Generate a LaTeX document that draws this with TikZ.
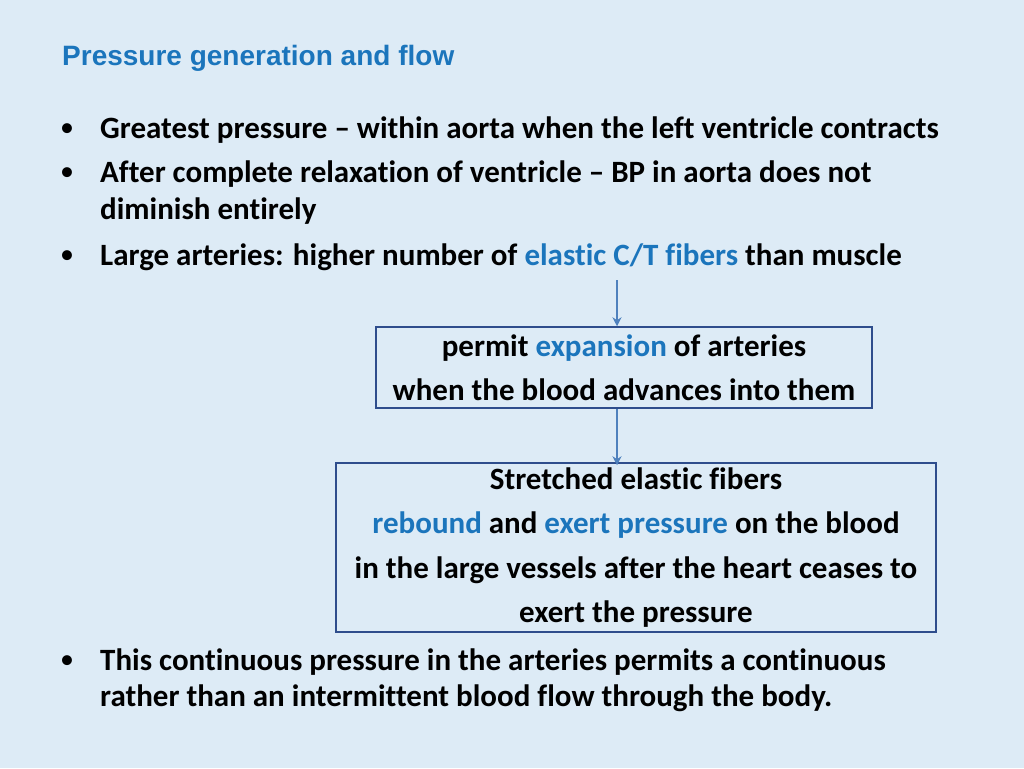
\documentclass[tikz,border=0pt]{standalone}
\usepackage{fontspec}
\setmainfont{Carlito}[Ligatures={NoCommon}]
\newfontfamily\titlefont{Liberation Sans}
\usetikzlibrary{positioning,arrows.meta}
\definecolor{slidebg}{HTML}{DDEBF6}
\definecolor{titleblue}{HTML}{1B75BC}
\definecolor{hiblue}{HTML}{1B75BC}
\definecolor{boxline}{HTML}{2E4D8C}
\definecolor{arrowblue}{HTML}{4F81BD}
\newcommand{\hi}[1]{\textcolor{hiblue}{#1}}
\tikzset{
  txt/.style={anchor=west, inner sep=0pt, font=\fontsize{31}{36}\selectfont\bfseries},
  dot/.style={anchor=west, inner sep=0pt, font=\fontsize{28}{32}\selectfont},
  flowbox/.style={draw=boxline, line width=1.5pt, align=center, inner sep=0pt,
    font=\fontsize{31}{44.5}\selectfont\bfseries},
  flowarrow/.style={draw=arrowblue, line width=2pt, -{Stealth[length=9pt,width=9pt]}}
}
\begin{document}
\begin{tikzpicture}[x=1pt,y=-1pt]
    \fill[slidebg] (0,0) rectangle (1024,768);
    \useasboundingbox (0,0) rectangle (1024,768);

    % Title
    \node[anchor=west, inner sep=0pt, font=\titlefont\fontsize{28}{34}\selectfont\bfseries, text=titleblue] (title) at (62,58) {Pressure generation and flow};

    % Bullets
    \foreach \y in {130,174,257,662} {
        \node[dot] at (60,\y) {•};
    }
    \node[txt] (b1) at (100,130) {Greatest pressure – within aorta when the left ventricle contracts};
    \node[txt] (b2a) at (100,174) {After complete relaxation of ventricle – BP in aorta does not};
    \node[txt] (b2b) at (100,211) {diminish entirely};
    \node[txt] (b3) at (100,257) {Large arteries: higher number of \hi{elastic C/T fibers} than muscle};
    \node[txt] (b4a) at (100,662) {This continuous pressure in the arteries permits a continuous};
    \node[txt] (b4b) at (100,698) {rather than an intermittent blood flow through the body.};

    % Boxes
    \node[flowbox, minimum width=496, minimum height=81] (expand) at (624,367.5)
        {permit \hi{expansion} of arteries\\when the blood advances into them};
    \node[flowbox, minimum width=600, minimum height=169] (rebound) at (636,547.5)
        {Stretched elastic fibers\\\hi{rebound} and \hi{exert pressure} on the blood\\in the large vessels after the heart ceases to\\exert the pressure};

    % Arrows
    \coordinate (src) at (617,280);
    \draw[flowarrow] (src) -- (src |- expand.north);
    \draw[flowarrow] ([xshift=-7pt]expand.south) -- ([xshift=-7pt,yshift=-3pt]expand.south |- rebound.north);
\end{tikzpicture}
\end{document}
